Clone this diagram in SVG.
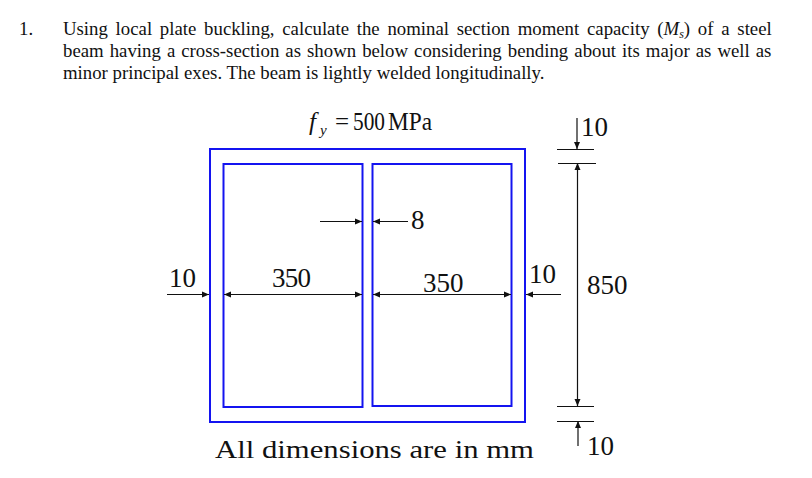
<svg xmlns="http://www.w3.org/2000/svg" width="812" height="478" viewBox="0 0 812 478">
<style>
text{font-family:"Liberation Serif","Times New Roman",serif;fill:#111}
.b{font-size:18.800px}
.d{font-size:27px}
.s{fill:none;stroke:#1414f0;stroke-width:2}
.c{fill:none;stroke:#111;stroke-width:1.200}
</style>
<defs>
<marker id="a" markerUnits="userSpaceOnUse" markerWidth="7" markerHeight="7" refX="7" refY="3.500" orient="auto-start-reverse"><path d="M0 0.500L7 3.500L0 6.500z" fill="#111"/></marker>
</defs>
<rect width="812" height="478" fill="#fff"/>
<g id="problem-text">
<text class="b" x="19" y="35">1.</text>
<text class="b" x="63" y="35" word-spacing="3.050">Using local plate buckling, calculate the nominal section moment capacity (<tspan font-style="italic">M</tspan><tspan font-style="italic" font-size="12" dy="3">s</tspan><tspan dy="-3">) of a steel</tspan></text>
<text class="b" x="63" y="57" word-spacing="1.350">beam having a cross-section as shown below considering bending about its major as well as</text>
<text class="b" x="63" y="79">minor principal exes. The beam is lightly welded longitudinally.</text>
</g>
<g id="section">
<rect id="outer-box" class="s" x="210" y="149" width="315" height="273"/>
<rect id="left-cell" class="s" x="223.500" y="164" width="139" height="243"/>
<rect id="right-cell" class="s" x="372.500" y="164" width="139" height="242"/>
</g>
<g id="connectors">
<path class="c" d="M320 221.500H362" marker-end="url(#a)"/>
<path class="c" d="M408 221.500H373" marker-end="url(#a)"/>
<path class="c" d="M167 294.500H209" marker-end="url(#a)"/>
<path class="c" d="M224 294.500H362" marker-start="url(#a)" marker-end="url(#a)"/>
<path class="c" d="M373 294.500H511" marker-start="url(#a)" marker-end="url(#a)"/>
<path class="c" d="M561 294.500H526" marker-end="url(#a)"/>
<path class="c" d="M577 118V149" marker-end="url(#a)"/>
<path class="c" d="M577.500 163V406" marker-start="url(#a)" marker-end="url(#a)"/>
<path class="c" d="M578 446V421" marker-end="url(#a)"/>
<path class="c" d="M557 149.500H594M558 163.500H596M557 406.500H594M557 421.500H594"/>
</g>
<g id="labels">
<text x="309" y="130" font-size="25" font-style="italic">f</text>
<text x="320" y="135" font-size="15" font-style="italic">y</text>
<text x="335" y="130" font-size="25">=</text>
<text x="353" y="130" font-size="25" textLength="32" lengthAdjust="spacingAndGlyphs">500</text>
<text x="388" y="130" font-size="25" textLength="44" lengthAdjust="spacingAndGlyphs">MPa</text>
<text class="d" x="581" y="136">10</text>
<text class="d" x="411" y="229">8</text>
<text class="d" x="169" y="287">10</text>
<text class="d" x="272" y="287" textLength="39">350</text>
<text class="d" x="423" y="292">350</text>
<text class="d" x="529" y="283">10</text>
<text class="d" x="587" y="294">850</text>
<text class="d" x="587" y="455">10</text>
<text x="215" y="458" font-size="25.500" textLength="319" lengthAdjust="spacingAndGlyphs">All dimensions are in mm</text>
</g>
</svg>
